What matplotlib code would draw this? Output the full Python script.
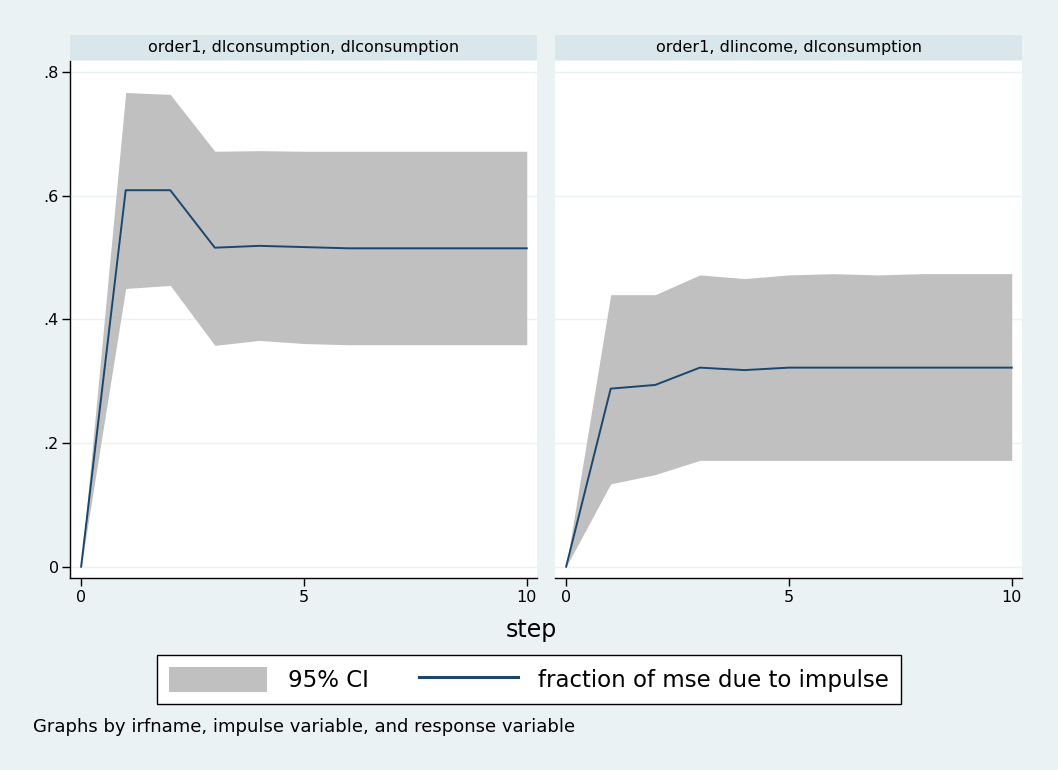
import numpy as np
import matplotlib.pyplot as plt
from matplotlib.patches import Rectangle, Patch
from matplotlib.lines import Line2D

steps = list(range(11))

# order1, dlconsumption -> dlconsumption
est_cc = [0, 0.609, 0.609, 0.516, 0.519, 0.517, 0.515, 0.515, 0.515, 0.515, 0.515]
lo_cc = [0, 0.450, 0.455, 0.358, 0.366, 0.361, 0.359, 0.359, 0.359, 0.359, 0.359]
hi_cc = [0, 0.767, 0.764, 0.672, 0.673, 0.672, 0.672, 0.672, 0.672, 0.672, 0.672]

# order1, dlincome -> dlconsumption
est_ic = [0, 0.288, 0.294, 0.322, 0.318, 0.322, 0.322, 0.322, 0.322, 0.322, 0.322]
lo_ic = [0, 0.134, 0.149, 0.172, 0.172, 0.172, 0.172, 0.172, 0.172, 0.172, 0.172]
hi_ic = [0, 0.440, 0.440, 0.472, 0.466, 0.472, 0.474, 0.472, 0.474, 0.474, 0.474]

titles = ['order1, dlconsumption, dlconsumption', 'order1, dlincome, dlconsumption']
yticks = [0, 0.2, 0.4, 0.6, 0.8]
ylabels = ['0', '.2', '.4', '.6', '.8']

bg = '#EAF2F3'
strip = '#D9E6EB'
ci_col = '#C0C0C0'
line_col = '#1A476F'

fig = plt.figure(figsize=(10.58, 7.70), dpi=100, facecolor=bg)

panels = [(est_cc, lo_cc, hi_cc), (est_ic, lo_ic, hi_ic)]
lefts = [70 / 1058, 555 / 1058]
for k, (est, lo, hi) in enumerate(panels):
    ax = fig.add_axes([lefts[k], 192 / 770, 467 / 1058, 517 / 770])
    ax.fill_between(steps, lo, hi, color=ci_col, linewidth=0)
    ax.plot(steps, est, color=line_col, linewidth=1.4)
    ax.set_xlim(-0.25, 10.23)
    ax.set_ylim(-0.0183, 0.818)
    ax.set_yticks(yticks)
    ax.set_xticks([0, 5, 10])
    for t in yticks:
        ax.axhline(t, color=bg, linewidth=1, zorder=0)
    for s in ['top', 'right']:
        ax.spines[s].set_visible(False)
    ax.spines['bottom'].set_linewidth(1)
    ax.tick_params(axis='x', direction='out', length=6, width=1, labelsize=11.5, pad=3)
    if k == 0:
        ax.set_yticklabels(ylabels)
        ax.tick_params(axis='y', direction='out', length=6, width=1, labelsize=11.5, pad=2)
        ax.spines['left'].set_linewidth(1)
    else:
        ax.spines['left'].set_visible(False)
        ax.tick_params(axis='y', length=0, labelleft=False)
    # header strip
    h = 24.7 / 517
    ax.add_patch(Rectangle((0, 1.0 + 1 / 517), 1, h, transform=ax.transAxes,
                           facecolor=strip, edgecolor='none', clip_on=False))
    ax.text(0.5, 1.0 + 1 / 517 + h / 2, titles[k], transform=ax.transAxes,
            ha='center', va='center', fontsize=11.5)

fig.text(531 / 1058, 1 - 630 / 770, 'step', ha='center', va='center', fontsize=17)

handles = [Patch(facecolor=ci_col, edgecolor='none'),
           Line2D([0], [0], color=line_col, linewidth=2.2)]
leg = fig.legend(handles, ['95% CI', 'fraction of mse due to impulse'],
                 loc='center', bbox_to_anchor=(529 / 1058, 1 - 679.5 / 770), ncol=2,
                 fontsize=16.5, frameon=True, fancybox=False, framealpha=1,
                 handlelength=4.3, handleheight=1.3, handletextpad=0.9,
                 columnspacing=2.2, borderpad=0.5)
leg.get_frame().set_edgecolor('black')
leg.get_frame().set_linewidth(1)
leg.get_frame().set_facecolor('white')

fig.text(33 / 1058, 1 - 727 / 770, 'Graphs by irfname, impulse variable, and response variable',
         ha='left', va='center', fontsize=13)

fig.savefig('out.png', dpi=100, facecolor=bg)
